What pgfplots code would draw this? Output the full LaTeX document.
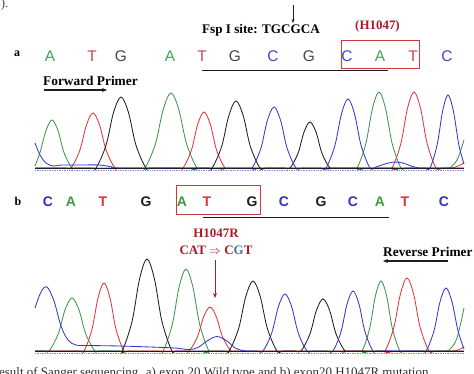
\documentclass[border=0pt]{standalone}
\usepackage{pgfplots}
\pgfplotsset{compat=1.18}
\usepackage{fontspec}
\setmainfont{Liberation Serif}
\newfontfamily\seqfont{Liberation Sans}
\usetikzlibrary{arrows.meta}
\definecolor{tgreen}{RGB}{60,150,75}
\definecolor{tred}{RGB}{225,55,55}
\definecolor{tblack}{RGB}{30,30,30}
\definecolor{tblue}{RGB}{55,55,205}
\definecolor{lgreen}{RGB}{70,160,90}
\definecolor{lred}{RGB}{200,70,80}
\definecolor{lgray}{RGB}{70,70,70}
\definecolor{lblue}{RGB}{70,70,200}
\definecolor{bgreen}{RGB}{60,155,60}
\definecolor{bred}{RGB}{220,50,50}
\definecolor{bblue}{RGB}{50,50,190}
\definecolor{dred}{RGB}{165,30,40}
\definecolor{boxred}{RGB}{200,60,60}
\definecolor{gblue}{RGB}{70,110,150}
\begin{document}
\begin{tikzpicture}
\begin{axis}[
  width=474bp, height=374bp, scale only axis,
  xmin=0, xmax=474, ymin=0, ymax=374, y dir=reverse,
  hide axis, clip=false,
  trace/.style={line width=0.85pt, smooth, tension=0.55, no markers},
]
% ---------- panel a traces (baseline 168) ----------
\addplot[trace, tgreen] coordinates {
 (35,166) (40,152.6) (46,130.6) (52,120) (58,130.6) (64,152.6) (72,168) (78,168)
 (139,168) (145,168) (155.4,144) (163.2,109.5) (171,93) (178.8,109.5) (186.6,144) (197,168) (203,168)
 (351,168) (357,168) (365.8,143.7) (372.4,108.7) (379,92) (385.6,108.7) (392.2,143.7) (401,168) (407,168)
 (446,168) (452,166) (458,158) (464,140)};
\addplot[trace, tred] coordinates {
 (35,168) (65,168) (71,168) (79.8,150.4) (86.4,125.1) (93,113) (99.6,125.1) (106.2,150.4) (115,168) (121,168)
 (177,168) (183,168) (191.4,150.1) (197.7,124.3) (204,112) (210.3,124.3) (216.6,150.1) (225,168) (231,168)
 (386,168) (392,168) (400.8,143.7) (407.4,108.7) (414,92) (420.6,108.7) (427.2,143.7) (436,168) (442,168)
 (452,168) (458,166) (464,163)};
\addplot[trace, tblack] coordinates {
 (35,168) (90,168) (96,168) (106,145.3) (113.5,112.6) (121,97) (128.5,112.6) (136,145.3) (146,168) (152,168)
 (206,168) (212,168) (221.6,146.6) (228.8,115.7) (236,101) (243.2,115.7) (250.4,146.6) (260,168) (266,168)
 (284,168) (290,168) (298,153.3) (304,132.1) (310,122) (316,132.1) (322,153.3) (330,168) (336,168)
 (464,168)};
\addplot[trace, tblue] coordinates {
 (35,143) (40,155) (46,163) (53,166) (62,165) (80,165) (100,165) (112,167) (125,168)
 (246,168) (252,168) (260.8,148.5) (267.4,120.4) (274,107) (280.6,120.4) (287.2,148.5) (296,168) (302,168)
 (320,168) (326,168) (334.8,145.9) (341.4,114.2) (348,99) (354.6,114.2) (361.2,145.9) (370,168) (376,167)
 (385,164) (394,162) (403,163) (411,166) (419,168)
 (425,168) (430,168) (437.2,144.6) (442.6,111.1) (448,95) (453.4,111.1) (458.8,144.6) (464,164)};
% baselines
\addplot[tblack, line width=1.3pt] coordinates {(35,168.5) (464,168.5)};
\addplot[tblue!60, densely dotted, line width=0.7pt] coordinates {(35,170.5) (464,170.5)};
% ---------- panel b traces (baseline 351) ----------
\addplot[trace, tgreen] coordinates {
 (35,351) (43,351) (49,351) (58.2,334) (65.1,309.7) (72,298) (78.9,309.7) (85.8,334) (95,351) (101,351)
 (157,351) (163,351) (172.2,324.8) (179.1,287) (186,269) (192.9,287) (199.8,324.8) (209,351) (215,351)
 (356,351) (362,351) (369.6,328.6) (375.3,296.4) (381,281) (386.7,296.4) (392.4,328.6) (400,351) (406,351)
 (444,351) (450,349) (457,338) (464,308)};
\addplot[trace, tred] coordinates {
 (35,351) (78,351) (84,351) (92,329.2) (98,298) (104,283) (110,298) (116,329.2) (124,351) (130,351)
 (183,351) (189,351) (197.4,336.9) (203.7,316.7) (210,307) (216.3,316.7) (222.6,336.9) (231,351) (237,351)
 (379,351) (385,351) (393.8,327.6) (400.4,294.1) (407,278) (413.6,294.1) (420.2,327.6) (429,351) (435,351)
 (452,351) (458,350) (464,347)};
\addplot[trace, tblack] coordinates {
 (35,351) (116,351) (122,351) (132,321.6) (139.5,279.2) (147,259) (154.5,279.2) (162,321.6) (172,351) (178,351)
 (223,351) (229,351) (238.6,328.6) (245.8,296.4) (253,281) (260.2,296.4) (267.4,328.6) (277,351) (283,351)
 (295,351) (301,351) (309.8,334.4) (316.4,310.4) (323,299) (329.6,310.4) (336.2,334.4) (345,351) (351,351)
 (464,351)};
\addplot[trace, tblue] coordinates {
 (35,308) (41,292) (47,287) (54,301) (61,326) (68,340) (76,345) (90,345.5) (120,346) (150,347)
 (175,348) (189,349.5) (198,347.5) (207,341) (217,336.5) (227,341) (236,348.5) (246,351)
 (257,351) (263,351) (271.8,332.8) (278.4,306.5) (285,294) (291.6,306.5) (298.2,332.8) (307,351) (313,351)
 (327,351) (333,351) (341,331.8) (347,304.2) (353,291) (359,304.2) (365,331.8) (373,351) (379,351)
 (420,351) (426,351) (434,330.8) (440,301.9) (446,288) (452,301.9) (458,330.8) (464,349)};
\addplot[tblack, line width=1.3pt] coordinates {(35,351.5) (464,351.5)};
\addplot[tblue!60, densely dotted, line width=0.7pt] coordinates {(35,353.5) (464,353.5)};
% ---------- annotations panel a ----------
\addplot[boxred, line width=0.9pt] coordinates {(341,40) (419,40) (419,68) (341,68) (341,40)};
\addplot[tblack, line width=1.4pt] coordinates {(202,70.5) (388,70.5)};
\addplot[tblack, line width=1.2pt, -{Stealth[length=5pt,width=4pt]}] coordinates {(44,90) (107,90)};
\addplot[tblack, line width=0.6pt, -{Stealth[length=4pt,width=3pt]}] coordinates {(293,5) (293,23)};
\node[anchor=base east, font=\fontsize{13}{13}\selectfont, text=lgray] at (axis cs:12,8) {3).};
\node[anchor=base west, font=\fontsize{13.2}{13}\selectfont\bfseries, inner sep=0pt] at (axis cs:202,33) {Fsp I site: TGCGCA};
\node[anchor=base west, font=\fontsize{13}{13}\selectfont\bfseries, text=dred, inner sep=0pt] at (axis cs:355,30) {(H1047)};
\node[font=\fontsize{12}{12}\selectfont\bfseries] at (axis cs:17,54) {a};
\node[anchor=base west, font=\fontsize{13.4}{13}\selectfont\bfseries, inner sep=0pt] at (axis cs:43,85) {Forward Primer};
\begin{scope}[every node/.style={font=\seqfont\fontsize{15.5}{15}\selectfont, inner sep=0pt}]
\node[text=lgreen] at (axis cs:50,56) {A};
\node[text=lred] at (axis cs:92,56) {T};
\node[text=lgray] at (axis cs:121,56) {G};
\node[text=lgreen] at (axis cs:170,56) {A};
\node[text=lred] at (axis cs:202,56) {T};
\node[text=lgray] at (axis cs:235,56) {G};
\node[text=lblue] at (axis cs:273,56) {C};
\node[text=lgray] at (axis cs:309,56) {G};
\node[text=lblue] at (axis cs:347,56) {C};
\node[text=lgreen] at (axis cs:380,56) {A};
\node[text=lred] at (axis cs:413,56) {T};
\node[text=lblue] at (axis cs:447,56) {C};
\end{scope}
% ---------- annotations panel b ----------
\node[font=\fontsize{12}{12}\selectfont\bfseries] at (axis cs:18,201) {b};
\begin{scope}[every node/.style={font=\seqfont\bfseries\fontsize{14}{14}\selectfont, inner sep=0pt}]
\node[text=bblue] at (axis cs:48,202) {C};
\node[text=bgreen] at (axis cs:71,202) {A};
\node[text=bred] at (axis cs:103,202) {T};
\node[text=tblack] at (axis cs:146,202) {G};
\node[text=bgreen] at (axis cs:182,202) {A};
\node[text=bred] at (axis cs:207,202) {T};
\node[text=tblack] at (axis cs:252,202) {G};
\node[text=bblue] at (axis cs:284,202) {C};
\node[text=tblack] at (axis cs:321,202) {G};
\node[text=bblue] at (axis cs:353,202) {C};
\node[text=bgreen] at (axis cs:380,202) {A};
\node[text=bred] at (axis cs:405,202) {T};
\node[text=bblue] at (axis cs:444,202) {C};
\end{scope}
\addplot[boxred, line width=0.9pt] coordinates {(176,185) (260,185) (260,214) (176,214) (176,185)};
\addplot[tblack, line width=1.4pt] coordinates {(203,217.5) (389,217.5)};
\node[font=\fontsize{13}{13}\selectfont\bfseries, text=dred] at (axis cs:216,233) {H1047R};
\node[font=\fontsize{13}{13}\selectfont\bfseries, text=dred] at (axis cs:216,250) {CAT $\Rightarrow$ C\textcolor{gblue}{G}T};
\addplot[dred, line width=0.9pt, -{Stealth[length=5pt,width=4pt]}] coordinates {(215,260) (215,298)};
\node[anchor=base west, font=\fontsize{13.4}{13}\selectfont\bfseries, inner sep=0pt] at (axis cs:383,256) {Reverse Primer};
\addplot[tblack, line width=1.2pt, -{Stealth[length=5pt,width=4pt]}] coordinates {(448,261) (383,261)};
\node[anchor=base west, font=\fontsize{13}{13}\selectfont, inner sep=0pt, text=lgray!70!black] at (axis cs:-1,376) {esult of Sanger sequencing. a) exon 20 Wild type and b) exon20 H1047R mutation};
\coordinate (bl) at (axis cs:0,374);
\coordinate (tr) at (axis cs:474,0);
\end{axis}
\pgfresetboundingbox
\path[use as bounding box] (bl) rectangle (tr);
\end{tikzpicture}
\end{document}
